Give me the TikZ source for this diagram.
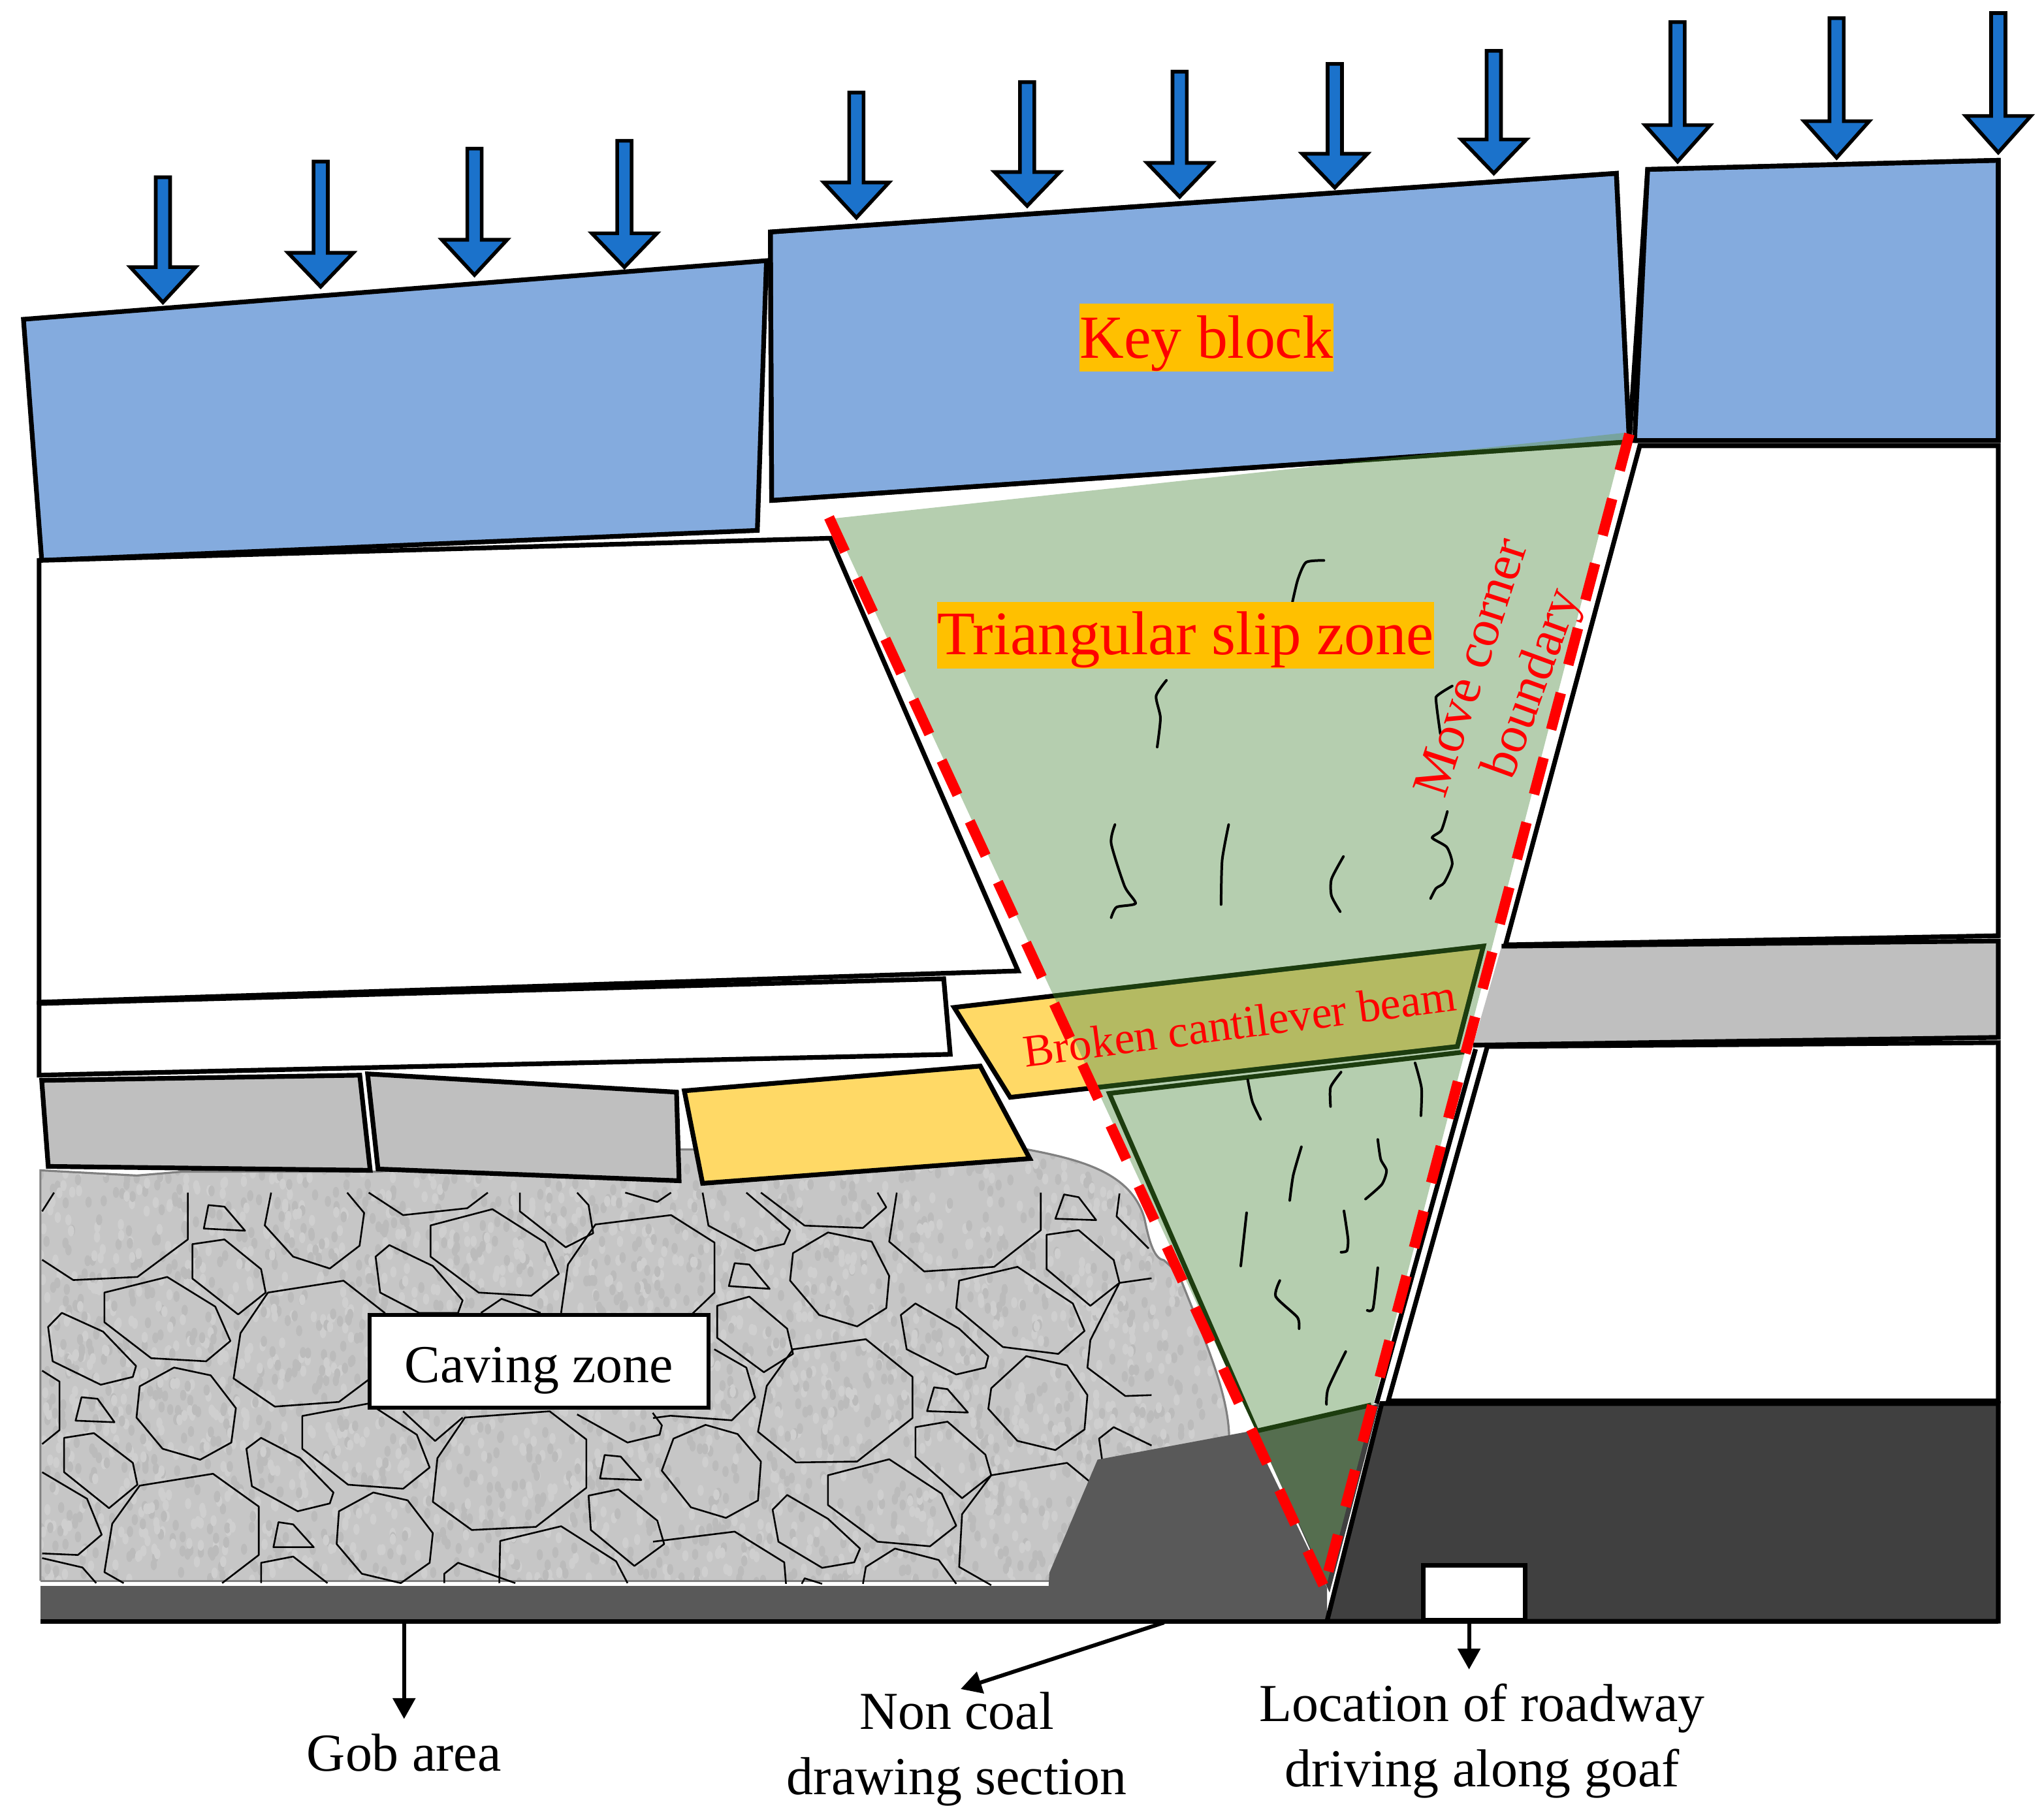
\documentclass[tikz,border=0pt]{standalone}
\usepackage{fontspec}
\setmainfont{Liberation Serif}
\usetikzlibrary{arrows.meta}
\definecolor{bluefill}{HTML}{84ABDE}
\definecolor{greyfill}{HTML}{BFBFBF}
\definecolor{yellowfill}{HTML}{FFD966}
\definecolor{orangebox}{HTML}{FFC000}
\definecolor{slipgreen}{RGB}{107,157,95}
\definecolor{darkline}{HTML}{1D3D0F}
\definecolor{arrowblue}{HTML}{1B72CB}
\definecolor{rockfill}{HTML}{C6C6C6}
\definecolor{rockdark}{HTML}{BBBBBB}
\definecolor{rocklight}{HTML}{CFCFCF}
\definecolor{coaldark}{HTML}{404040}
\definecolor{floorgrey}{HTML}{595959}
\tikzset{
  block/.style={draw=black,line width=3.6pt,line join=miter},
  rock/.style={draw=black,line width=1.3pt,line join=round},
  crack/.style={draw=black,line width=2pt,line cap=round},
  redline/.style={draw=red,line width=8pt,dash pattern=on 29pt off 22.4pt},
  leader/.style={draw=black,line width=3pt,-{Triangle[width=17pt,length=16pt]}},
  label/.style={inner sep=0pt,align=center,font=\fontsize{41}{50}\selectfont},
  zoneA/.style={shift={(0pt,-876.75pt)},x=0.3514pt,y=-0.2397pt},
  zoneB/.style={shift={(501pt,-701.4pt)},x=0.4473pt,y=-0.3515pt},
  zoneC/.style={shift={(601.2pt,-300.6pt)},x=0.4153pt,y=-0.2876pt},
}
\begin{document}
\begin{tikzpicture}[x=1pt,y=-1pt]
\useasboundingbox (0,0) rectangle (1568.1,1395.3);
% caving zone
\path[fill=rockfill]
  (31,898) -- (105,902) -- (140,899) -- (290,899) -- (521,882) -- (788,882)
  .. controls (830,890) and (868,900) .. (878,935)
  .. controls (882,955) and (886,966) .. (893,967) -- (904,977)
  .. controls (925,1030) and (943,1070) .. (943,1105)
  -- (805,1213) -- (31,1213) -- cycle;
\begin{scope}
\clip (31,898) -- (105,902) -- (140,899) -- (290,899) -- (521,882) -- (788,882)
  .. controls (830,890) and (868,900) .. (878,935)
  .. controls (882,955) and (886,966) .. (893,967) -- (904,977)
  .. controls (925,1030) and (943,1070) .. (943,1105)
  -- (805,1213) -- (31,1213) -- cycle;
\pgfmathsetseed{11}
\foreach \i in {1,...,3600}{
  \pgfmathsetmacro{\px}{31+rnd*915}
  \pgfmathsetmacro{\py}{880+rnd*335}
  \ifodd\i
    \fill[rockdark] (\px,\py) ellipse [x radius=2.4pt,y radius=4.2pt];
  \else
    \fill[rocklight] (\px,\py) ellipse [x radius=2.4pt,y radius=4.2pt];
  \fi
}
\end{scope}
\draw[gray,line width=1.6pt]
  (31,1213) -- (31,898) -- (105,902) -- (140,899) -- (290,899) -- (521,882) -- (788,882)
  .. controls (830,890) and (868,900) .. (878,935)
  .. controls (882,955) and (886,966) .. (893,967) -- (904,977)
  .. controls (925,1030) and (943,1070) .. (943,1105);
\draw[gray,line width=1.6pt] (31,1213) -- (805,1213);
% rocks, left part
\begin{scope}[zoneA]
\draw[rock] plot coordinates {(92,375)(160,440)(300,430)(410,310)(410,160)};
\draw[rock] plot coordinates {(92,220)(118,160)};
\draw[rock] plot coordinates {(445,275)(455,200)(490,205)(535,282)} -- cycle;
\draw[rock] plot coordinates {(420,325)(490,310)(570,405)(580,480)(520,550)(420,435)} -- cycle;
\draw[rock] plot coordinates {(592,160)(578,265)(640,365)(720,403)(785,330)(795,225)(758,160)};
\draw[rock] plot coordinates {(805,160)(880,232)(1020,210)(1065,160)};
\draw[rock] plot coordinates {(940,265)(1075,213)(1190,320)(1220,420)(1160,490)(1045,480)(940,365)} -- cycle;
\draw[rock] plot coordinates {(820,365)(850,328)(945,395)(1010,505)(1000,545)(915,545)(830,480)} -- cycle;
\draw[rock] plot coordinates {(1135,160)(1135,220)(1235,335)(1295,290)(1285,200)(1260,160)};
\draw[rock] plot coordinates {(1225,545)(1240,390)(1300,262)(1465,232)(1560,320)(1560,480)(1510,550)};
\draw[rock] plot coordinates {(1365,160)(1435,190)(1465,160)};
\draw[rock] plot coordinates {(228,480)(365,430)(470,525)(503,635)(450,700)(330,690)(228,575)} -- cycle;
\draw[rock] plot coordinates {(585,480)(750,442)(840,545)(840,720)(740,830)(600,845)(510,755)(525,610)} -- cycle;
\draw[rock] plot coordinates {(105,590)(135,545)(225,605)(297,715)(290,750)(220,775)(115,700)} -- cycle;
\draw[rock] plot coordinates {(92,730)(130,765)(130,920)(92,965)};
\draw[rock] plot coordinates {(305,780)(380,720)(460,745)(515,850)(505,960)(437,1015)(355,980)(298,880)} -- cycle;
\draw[rock] plot coordinates {(165,890)(178,815)(213,820)(250,895)} -- cycle;
\draw[rock] plot coordinates {(140,945)(205,930)(290,1025)(300,1095)(238,1170)(140,1055)} -- cycle;
\draw[rock] plot coordinates {(660,875)(805,835)(910,935)(938,1040)(880,1108)(760,1095)(660,980)} -- cycle;
\draw[rock] plot coordinates {(538,980)(570,945)(655,1010)(728,1120)(720,1155)(650,1180)(550,1100)} -- cycle;
\draw[rock] plot coordinates {(485,1410)(565,1320)(565,1165)(465,1060)(305,1098)(245,1220)(228,1375)(270,1410)};
\draw[rock] plot coordinates {(92,1055)(190,1140)(222,1255)(170,1320)(92,1315)};
\draw[rock] plot coordinates {(92,1330)(180,1360)(210,1410)};
\draw[rock] plot coordinates {(597,1295)(608,1215)(640,1222)(685,1295)} -- cycle;
\draw[rock] plot coordinates {(570,1410)(570,1345)(640,1325)(715,1410)};
\draw[rock] plot coordinates {(735,1285)(740,1180)(815,1120)(890,1145)(945,1250)(938,1345)(875,1410)(790,1380)} -- cycle;
\draw[rock] plot coordinates {(1015,880)(1200,860)(1280,950)(1280,1105)(1170,1230)(1030,1240)(945,1150)(955,1010)} -- cycle;
\draw[rock] plot coordinates {(880,860)(950,955)(1010,880)};
\draw[rock] plot coordinates {(1260,870)(1370,960)(1440,935)(1445,905)(1425,865)};
\draw[rock] plot coordinates {(1310,1075)(1320,1000)(1355,1005)(1400,1080)} -- cycle;
\draw[rock] plot coordinates {(1285,1130)(1350,1110)(1435,1210)(1450,1285)(1385,1355)(1290,1240)} -- cycle;
\draw[rock] plot coordinates {(1090,1410)(1092,1275)(1225,1228)(1345,1340)(1370,1410)};
\draw[rock] plot coordinates {(970,1410)(970,1380)(1000,1345)(1125,1410)};
\draw[rock] plot coordinates {(1050,545)(1095,500)(1180,545)};
\end{scope}
% rocks, right part
\begin{scope}[zoneB]
\draw[rock] plot coordinates {(85,608)(95,680)(175,735)(225,720)(235,690)(160,608)};
\draw[rock] plot coordinates {(185,608)(260,680)(360,685)(400,640)(385,608)};
\draw[rock] plot coordinates {(418,608)(405,715)(465,780)(585,770)(665,690)(665,608)};
\draw[rock] plot coordinates {(690,665)(705,612)(730,618)(760,668)} -- cycle;
\draw[rock] plot coordinates {(240,740)(300,695)(375,715)(405,790)(400,860)(350,900)(285,875)(235,800)} -- cycle;
\draw[rock] plot coordinates {(130,812)(140,762)(165,765)(200,818)} -- cycle;
\draw[rock] plot coordinates {(110,855)(165,835)(230,905)(240,960)(190,1000)(110,925)} -- cycle;
\draw[rock] plot coordinates {(520,860)(525,800)(625,770)(720,850)(740,910)(695,960)(600,945)} -- cycle;
\draw[rock] plot coordinates {(675,700)(730,690)(790,755)(800,805)(750,855)(675,775)} -- cycle;
\draw[rock] plot coordinates {(855,795)(800,805)(750,930)(745,990)(810,1052)(855,1050)};
\draw[rock] plot coordinates {(800,610)(795,660)(850,730)};
\draw[rock] plot coordinates {(425,875)(450,850)(525,905)(575,965)(570,990)(520,1005)(435,950)} -- cycle;
\draw[rock] plot coordinates {(240,950)(365,928)(445,1010)(445,1100)(350,1195)(245,1197)(180,1130)(195,1030)} -- cycle;
\draw[rock] plot coordinates {(580,1035)(640,965)(710,985)(745,1050)(740,1125)(690,1170)(625,1150)(575,1080)} -- cycle;
\draw[rock] plot coordinates {(470,1085)(482,1033)(505,1037)(540,1088)} -- cycle;
\draw[rock] plot coordinates {(450,1120)(505,1108)(570,1180)(580,1225)(530,1275)(450,1185)} -- cycle;
\draw[rock] plot coordinates {(15,1215)(35,1145)(90,1115)(145,1135)(185,1195)(180,1280)(125,1318)(65,1295)} -- cycle;
\draw[rock] plot coordinates {(300,1290)(300,1225)(405,1190)(495,1265)(520,1335)(475,1380)(385,1370)} -- cycle;
\draw[rock] plot coordinates {(205,1300)(230,1268)(300,1320)(355,1385)(345,1415)(290,1427)(215,1370)} -- cycle;
\draw[rock] plot coordinates {(750,1240)(710,1198)(580,1225)(530,1310)(525,1425)(580,1465)};
\draw[rock] plot coordinates {(770,1190)(765,1145)(790,1120)(855,1160)};
\draw[rock] plot coordinates {(0,1370)(140,1348)(225,1415)(228,1462)};
\draw[rock] plot coordinates {(360,1462)(365,1425)(415,1385)(490,1410)(520,1462)};
\draw[rock] plot coordinates {(255,1462)(260,1450)(290,1462)};
\draw[rock] plot coordinates {(0,1100)(30,1095)(135,1105)(175,1055)(160,990)(105,950)};
\end{scope}
% floor and dark seam
\fill[floorgrey] (31,1217) rectangle (806,1244);
\fill[coaldark] (964,1098) -- (1058,1077) -- (1020,1222) -- cycle;
\fill[floorgrey] (805,1207) -- (842,1120) -- (960,1098) -- (1018,1218) -- (1018,1244) -- (803,1244) -- cycle;
% upper blocks
\draw[block,fill=bluefill] (18,245) -- (588,200) -- (581,407) -- (32,430) -- cycle;
\path[block,fill=bluefill] (591,178) -- (1240,133) -- (1250,339) -- (592,384) -- cycle;
\path[block,fill=bluefill] (1264,130) -- (1533,123) -- (1533,338) -- (1254,338) -- cycle;
\draw[block,fill=white] (30,430) -- (637,413) -- (781,745) -- (30,769) -- cycle;
\draw[block,fill=white] (30,770) -- (724,751) -- (729,809) -- (30,825) -- cycle;
\draw[block,fill=greyfill] (32,829) -- (276,825) -- (284,898) -- (37,895) -- cycle;
\draw[block,fill=greyfill] (282,824) -- (519,838) -- (521,906) -- (290,897) -- cycle;
\draw[block,fill=yellowfill] (525,837) -- (752,818) -- (790,889) -- (539,908) -- cycle;
\draw[block,fill=yellowfill] (732,773) -- (1138,726) -- (1118,803) -- (775,842) -- cycle;
% right strata
\draw[block,fill=white] (1258,342) -- (1533,342) -- (1533,718) -- (1155,725) -- cycle;
\fill[greyfill] (1152,726) -- (1533,722) -- (1533,796) -- (1130,802) -- cycle;
\draw[block] (1152,726) -- (1533,722) -- (1533,796) -- (1130,802);
\draw[block,fill=white] (1141,803) -- (1533,800) -- (1533,1075) -- (1065,1075) -- cycle;
\draw[line width=3.6pt] (1132,805) -- (1056,1077);
\draw[block,fill=coaldark] (1060,1077) -- (1533,1077) -- (1533,1244) -- (1018,1244) -- cycle;
\draw[block,fill=white] (1092,1201) rectangle (1170,1243);
\draw[line width=3.6pt] (31,1244) -- (1533,1244);
% slip triangle
\fill[slipgreen,fill opacity=0.5] (638,398) -- (1247,332) -- (1018,1215) -- cycle;
\begin{scope}
\clip (638,398) -- (1247,332) -- (1018,1215) -- cycle;
\draw[darkline,line width=3.6pt] (592,384) -- (1250,339);
\draw[darkline,line width=3.6pt] (732,773) -- (1138,726) -- (1118,803) -- (775,842) -- cycle;
\draw[darkline,line width=3.6pt] (1125,807) -- (851,839) -- (964,1098) -- (1052,1078);
\end{scope}
% cracks
\begin{scope}[zoneC]
\draw[crack] plot[smooth,tension=.4] coordinates {(998,450)(965,455)(950,500)(940,560)};
\draw[crack] plot[smooth,tension=.4] coordinates {(707,770)(688,812)(696,870)(690,948)};
\draw[crack] plot[smooth,tension=.4] coordinates {(612,1155)(605,1205)(630,1320)(650,1365)(615,1375)(605,1403)};
\draw[crack] plot[smooth,tension=.4] coordinates {(822,1155)(810,1250)(808,1368)};
\draw[crack] plot[smooth,tension=.4] coordinates {(1034,1240)(1012,1300)(1012,1345)(1028,1387)};
\draw[crack] plot[smooth,tension=.4] coordinates {(1226,1120)(1215,1170)(1198,1190)(1225,1215)(1235,1260)(1220,1310)(1205,1325)(1195,1352)};
\draw[crack] plot[smooth,tension=.2] coordinates {(1235,785)(1205,815)(1213,912)};
\end{scope}
\begin{scope}[zoneB]
\draw[crack] plot[smooth,tension=.4] coordinates {(1020,362)(1028,410)(1042,448)};
\draw[crack] plot[smooth,tension=.4] coordinates {(1180,345)(1162,378)(1162,420)};
\draw[crack] plot[smooth,tension=.4] coordinates {(1307,325)(1318,380)(1317,440)};
\draw[crack] plot[smooth,tension=.4] coordinates {(1112,508)(1098,570)(1092,625)};
\draw[crack] plot[smooth,tension=.4] coordinates {(1243,492)(1248,535)(1258,560)(1250,590)(1222,622)};
\draw[crack] plot[smooth,tension=.4] coordinates {(1018,652)(1008,768)};
\draw[crack] plot[smooth,tension=.4] coordinates {(1185,648)(1192,710)(1190,735)(1180,738)};
\draw[crack] plot[smooth,tension=.4] coordinates {(1075,800)(1068,835)(1105,880)(1108,905)};
\draw[crack] plot[smooth,tension=.4] coordinates {(1243,772)(1235,860)(1225,865)};
\draw[crack] plot[smooth,tension=.4] coordinates {(1188,955)(1158,1035)(1155,1070)};
\end{scope}
% blue block outlines on top of the triangle
\draw[line width=3.6pt] (592,384) -- (591,178) -- (1240,133) -- (1250,339);
\draw[line width=3.6pt] (592,384) -- (1030,354);
\draw[line width=3.6pt] (1250,338) -- (1264,130) -- (1533,123) -- (1533,338) -- (1254,338);
% red boundary lines
\coordinate (apex) at (1016,1218);
\coordinate (apexRight) at (1019,1206);
\coordinate (leftTop) at (636,397);
\coordinate (rightTop) at (1250,333);
\draw[redline] (leftTop) -- (apex);
\draw[redline] (rightTop) -- (apexRight);
% load arrows
\foreach \ax/\at/\ah/\ap in {125/136/205/233,246/124/194/221,364/114/184/212,479/108/179/206,657/71/140/168,788/63/132/159,905/55/125/152,1024/49/118/145,1146/39/107/134,1287/17/96/125,1409/14/93/122,1533/10/89/118}{
  \draw[black,fill=arrowblue,line width=2.8pt,line join=miter]
    (\ax-5.5,\at) -- (\ax+5.5,\at) -- (\ax+5.5,\ah) -- (\ax+25,\ah) -- (\ax,\ap-1)
    -- (\ax-25,\ah) -- (\ax-5.5,\ah) -- cycle;
}
% labels
\node[label,fill=orangebox,text=red,minimum width=195pt,minimum height=52pt,text height=40pt,text depth=8pt,font=\fontsize{47}{50}\selectfont] (keyblock) at (925.5,259) {Key block};
\node[label,fill=orangebox,text=red,minimum width=379pt,minimum height=51pt,text height=38pt,text depth=9pt,font=\fontsize{47.5}{50}\selectfont] (slipzone) at (909.5,487.5) {Triangular slip zone};
\node[label,text=red,rotate=7.5,font=\fontsize{35}{40}\selectfont] (beam) at (951,785) {Broken cantilever beam};
\node[label,text=red,rotate=72,font=\fontsize{40}{50}\selectfont] (movecorner) at (1128,512) {Move corner};
\node[label,text=red,rotate=70,font=\fontsize{40}{50}\selectfont] (boundary) at (1177,525) {boundary};
\node[label,draw=black,line width=3pt,fill=white,minimum width=260pt,minimum height=71pt,text height=40pt,text depth=7pt] (caving) at (413.5,1044.5) {Caving zone};
\node[label] (gob) at (310,1345) {Gob area};
\node[label] (noncoal) at (734,1342) {Non coal\\drawing section};
\node[label] (roadwaylabel) at (1137,1336) {Location of roadway\\driving along goaf};
% leaders
\coordinate (gobstart) at (310,1245);
\coordinate (gobend) at (310,1319);
\coordinate (nonstart) at (893,1245);
\coordinate (nonend) at (737,1296);
\coordinate (roadstart) at (1127,1244);
\coordinate (roadend) at (1127,1281);
\draw[leader] (gobstart) -- (gobend);
\draw[leader] (nonstart) -- (nonend);
\draw[leader] (roadstart) -- (roadend);
\end{tikzpicture}
\end{document}
